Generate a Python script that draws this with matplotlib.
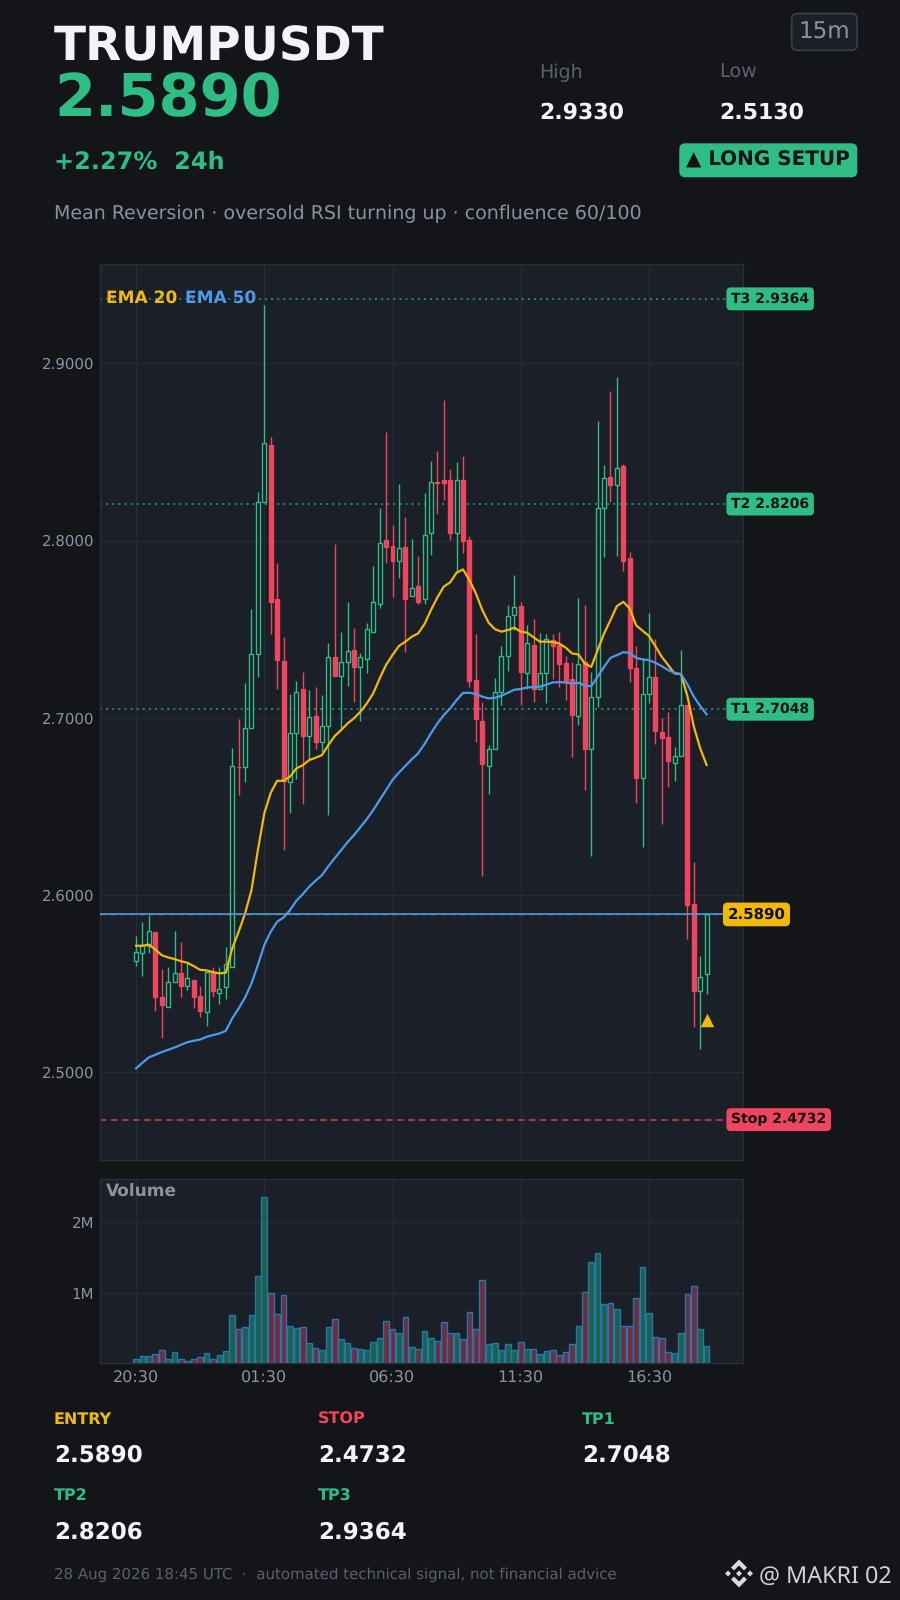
import matplotlib
matplotlib.use("Agg")
import matplotlib.pyplot as plt
from matplotlib.patches import FancyBboxPatch, Polygon

plt.rcParams["text.hinting"] = "none"
plt.rcParams["text.hinting_factor"] = 1

opens = [2.5628,2.5670,2.5711,2.5790,2.5422,2.5369,2.5510,2.5557,2.5487,2.5518,
         2.5429,2.5337,2.5563,2.5448,2.5478,2.5595,2.6723,2.6720,2.6940,2.7358,
         2.8219,2.8537,2.7668,2.7320,2.6639,2.6912,2.7160,2.6898,2.7009,2.6864,
         2.6955,2.7341,2.7237,2.7316,2.7382,2.7288,2.7329,2.7485,2.7640,2.8003,
         2.7969,2.7886,2.7963,2.7688,2.7743,2.7668,2.8040,2.8329,2.8341,2.8341,
         2.8040,2.8341,2.8003,2.7213,2.6981,2.6729,2.6821,2.7146,2.7350,2.7579,
         2.7630,2.7250,2.7408,2.7160,2.7250,2.7438,2.7410,2.7307,2.7217,2.7009,
         2.7316,2.6821,2.7118,2.8181,2.8356,2.8315,2.8420,2.7899,2.7279,2.6658,
         2.7132,2.7228,2.6917,2.6889,2.6746,2.6785,2.7070,2.5948,2.5459,2.5552]
highs = [2.5770,2.5849,2.5886,2.5790,2.5580,2.5591,2.5798,2.5736,2.5614,2.5518,
         2.5487,2.5566,2.5595,2.5595,2.5708,2.6827,2.6991,2.7197,2.7615,2.8275,
         2.9330,2.8586,2.7875,2.7457,2.7132,2.7209,2.7259,2.7156,2.7175,2.7128,
         2.7420,2.7978,2.7485,2.7654,2.7508,2.7367,2.7536,2.7858,2.8181,2.8610,
         2.8087,2.8317,2.8134,2.8007,2.7914,2.8266,2.8448,2.8507,2.8793,2.8402,
         2.8441,2.8478,2.8027,2.7470,2.7087,2.6846,2.7226,2.7404,2.7636,2.7805,
         2.7654,2.7523,2.7559,2.7480,2.7470,2.7470,2.7485,2.7350,2.7316,2.7677,
         2.7636,2.7259,2.8676,2.8426,2.8845,2.8921,2.8432,2.7937,2.7406,2.7335,
         2.7589,2.7444,2.7000,2.7030,2.6836,2.7382,2.7070,2.6187,2.5657,2.5890]
lows = [2.5599,2.5542,2.5670,2.5346,2.5191,2.5369,2.5510,2.5422,2.5463,2.5360,
        2.5309,2.5260,2.5422,2.5384,2.5411,2.5595,2.6564,2.6639,2.6940,2.7231,
        2.8219,2.7470,2.7160,2.6253,2.6460,2.6652,2.6513,2.6761,2.6821,2.6808,
        2.6451,2.7237,2.6940,2.7179,2.7087,2.6981,2.7250,2.7485,2.7617,2.7871,
        2.7679,2.7786,2.7369,2.7688,2.7640,2.7640,2.7918,2.8148,2.8228,2.8003,
        2.7815,2.7928,2.7171,2.6861,2.6109,2.6568,2.6821,2.7071,2.7263,2.7495,
        2.7071,2.7160,2.7087,2.7160,2.7081,2.7217,2.7171,2.7100,2.6780,2.6959,
        2.6592,2.6219,2.7062,2.7908,2.8219,2.7914,2.7829,2.7200,2.6517,2.6272,
        2.7081,2.6851,2.6400,2.6607,2.6643,2.6785,2.5749,2.5256,2.5130,2.5441]
closes = [2.5679,2.5717,2.5798,2.5425,2.5380,2.5510,2.5557,2.5487,2.5529,2.5425,
          2.5346,2.5566,2.5459,2.5467,2.5608,2.6729,2.6720,2.6940,2.7358,2.8219,
          2.8548,2.7654,2.7325,2.6644,2.6912,2.7146,2.6898,2.7006,2.6864,2.6955,
          2.7341,2.7237,2.7316,2.7378,2.7288,2.7341,2.7499,2.7651,2.7987,2.7965,
          2.7886,2.7959,2.7668,2.7730,2.7654,2.8031,2.8328,2.8325,2.8326,2.8040,
          2.8340,2.7999,2.7209,2.6991,2.6737,2.6821,2.7146,2.7350,2.7575,2.7626,
          2.7259,2.7420,2.7160,2.7250,2.7447,2.7406,2.7301,2.7207,2.7015,2.7301,
          2.6821,2.7118,2.8181,2.8351,2.8315,2.8407,2.7886,2.7279,2.6658,2.7132,
          2.7228,2.6926,2.6887,2.6757,2.6785,2.7070,2.5943,2.5459,2.5538,2.5890]
volumes = [0.070,0.122,0.122,0.150,0.207,0.080,0.178,0.080,0.042,0.080,
           0.108,0.155,0.080,0.127,0.183,0.690,0.502,0.521,0.690,1.239,
           2.362,1.000,0.704,0.972,0.535,0.507,0.521,0.296,0.225,0.197,
           0.521,0.634,0.352,0.296,0.225,0.211,0.197,0.310,0.366,0.606,
           0.493,0.437,0.662,0.239,0.211,0.465,0.366,0.324,0.592,0.437,
           0.437,0.352,0.732,0.493,1.183,0.282,0.296,0.197,0.282,0.197,
           0.310,0.211,0.211,0.141,0.183,0.197,0.127,0.169,0.282,0.535,
           1.014,1.437,1.563,0.845,0.859,0.775,0.535,0.535,0.930,1.366,
           0.718,0.380,0.366,0.169,0.155,0.437,0.986,1.099,0.493,0.254]
ema20 = [2.5713,2.5713,2.5720,2.5692,2.5660,2.5647,2.5638,2.5626,2.5617,2.5598,
         2.5577,2.5574,2.5564,2.5557,2.5561,2.5698,2.5792,2.5895,2.6027,2.6253,
         2.6460,2.6576,2.6644,2.6644,2.6667,2.6714,2.6732,2.6761,2.6774,2.6789,
         2.6846,2.6897,2.6931,2.6968,2.6997,2.7034,2.7081,2.7138,2.7222,2.7298,
         2.7354,2.7405,2.7429,2.7457,2.7476,2.7529,2.7608,2.7679,2.7740,2.7764,
         2.7819,2.7837,2.7777,2.7702,2.7608,2.7536,2.7499,2.7486,2.7495,2.7508,
         2.7486,2.7480,2.7454,2.7429,2.7429,2.7428,2.7419,2.7396,2.7363,2.7357,
         2.7306,2.7287,2.7381,2.7475,2.7551,2.7630,2.7654,2.7617,2.7522,2.7491,
         2.7462,2.7404,2.7344,2.7297,2.7250,2.7246,2.7123,2.6950,2.6827,2.6733]
ema50 = [2.5021,2.5053,2.5083,2.5098,2.5113,2.5126,2.5139,2.5154,2.5169,2.5177,
         2.5184,2.5199,2.5209,2.5218,2.5233,2.5303,2.5359,2.5421,2.5500,2.5604,
         2.5717,2.5792,2.5848,2.5873,2.5914,2.5967,2.6004,2.6046,2.6080,2.6112,
         2.6162,2.6208,2.6253,2.6298,2.6338,2.6383,2.6428,2.6479,2.6536,2.6592,
         2.6649,2.6690,2.6728,2.6765,2.6799,2.6852,2.6912,2.6968,2.7015,2.7053,
         2.7100,2.7140,2.7141,2.7134,2.7119,2.7109,2.7113,2.7124,2.7141,2.7158,
         2.7162,2.7171,2.7173,2.7175,2.7187,2.7199,2.7201,2.7199,2.7193,2.7197,
         2.7182,2.7178,2.7231,2.7287,2.7338,2.7353,2.7370,2.7366,2.7338,2.7329,
         2.7325,2.7310,2.7291,2.7269,2.7254,2.7246,2.7189,2.7119,2.7066,2.7019]
time_labels = ["20:30", "01:30", "06:30", "11:30", "16:30"]
time_ticks = [0, 20, 40, 60, 80]
price_ticks = [2.5, 2.6, 2.7, 2.8, 2.9]
volume_ticks = [1.0, 2.0]
volume_labels = ["1M", "2M"]
targets = {"T1": 2.7048, "T2": 2.8206, "T3": 2.9364}
stop_price = 2.4732
last_price = 2.5890
signal_price = 2.5295
signal_index = 89

BG = "#131519"
PANEL = "#1B1F27"
GRID = "#272B34"
SPINE = "#2A2E37"
GREEN = "#2DBD85"
RED = "#F0445F"
YELLOW = "#F0B90B"
BLUE = "#4A9BEC"
WHITE = "#F1F3F6"
GREY = "#8A92A0"
DIM = "#5A606C"

W, H = 900, 1600
fig = plt.figure(figsize=(9, 16), dpi=100, facecolor=BG)
plt.rcParams["font.family"] = "DejaVu Sans"

def axes_px(x0, y0, x1, y1):
    return fig.add_axes([x0 / W, 1 - y1 / H, (x1 - x0) / W, (y1 - y0) / H], facecolor=PANEL)

ax = axes_px(100.3, 264.3, 743.3, 1160)
vax = axes_px(100.3, 1179.3, 743.3, 1363.3)
XLIM = (-5.58, 94.72)

for a in (ax, vax):
    a.set_xlim(*XLIM)
    a.set_axisbelow(True)
    a.grid(True, color=GRID, lw=1)
    for s in a.spines.values():
        s.set_color(SPINE)
        s.set_linewidth(1)
    a.set_xticks(time_ticks)

ax.set_ylim(2.4504, 2.9559)
ax.set_yticks(price_ticks)
ax.set_yticklabels([f"{p:.4f}" for p in price_ticks], color=GREY, fontsize=11)
ax.tick_params(axis="x", length=0, labelbottom=False)
ax.tick_params(axis="y", length=0, pad=4.5)

LABEL_X = 0.981
def level_label(x, val, text, fc, size, pad):
    ax.text(x, val, text, transform=ax.get_yaxis_transform(), ha="left", va="center",
            color="#0E1114", fontsize=size, fontweight="bold", family="DejaVu Sans",
            clip_on=False, zorder=8,
            bbox=dict(boxstyle=f"round,pad={pad},rounding_size=0.3", fc=fc, ec="none"))

# reference levels
for name, val in targets.items():
    ax.axhline(val, color=GREEN, lw=1.1, ls=(0, (1.3, 2.7)), alpha=0.85, zorder=1.5)
    level_label(LABEL_X, val, f"{name} {val:.4f}", GREEN, 10.2, 0.33)
ax.axhline(stop_price, color=RED, lw=1.2, ls=(0, (4, 2.6)), alpha=0.8, zorder=1.5)
level_label(LABEL_X, stop_price, f"Stop {stop_price:.4f}", RED, 10.2, 0.33)

# candles
xs = list(range(len(closes)))
for i in xs:
    up = closes[i] >= opens[i]
    col = GREEN if up else RED
    ax.vlines(i, lows[i], highs[i], color=col, lw=1.0, zorder=3)
    ax.bar(i, abs(closes[i] - opens[i]), bottom=min(opens[i], closes[i]), width=0.62,
           facecolor=PANEL if up else col, edgecolor=col, lw=1.0, zorder=4)

ax.plot(xs, ema20, color=YELLOW, lw=1.6, zorder=5)
ax.plot(xs, ema50, color=BLUE, lw=1.6, zorder=5)
ax.axhline(last_price, color=YELLOW, lw=1.0, ls=(0, (4, 3)), alpha=0.5, zorder=5)
ax.axhline(last_price, color=BLUE, lw=1.3, alpha=0.9, zorder=5.5)
level_label(0.9755, last_price, f"{last_price:.4f}", YELLOW, 11.0, 0.3)
ax.scatter([signal_index], [signal_price], marker="^", s=95, color=YELLOW, zorder=7, linewidths=0)

ax.text(0.0085, 0.9625, "EMA 20", transform=ax.transAxes, color=YELLOW, fontsize=12.2,
        fontweight="bold", ha="left", va="center", zorder=9)
ax.text(0.1313, 0.9625, "EMA 50", transform=ax.transAxes, color=BLUE, fontsize=12.2,
        fontweight="bold", ha="left", va="center", zorder=9)

# volume
vcols = ["#1F6048" if c >= o else "#762B3A" for o, c in zip(opens, closes)]
vax.bar(xs, volumes, width=0.88, color=vcols, edgecolor="#1F77B4", lw=1.0, zorder=3)
vax.set_ylim(0.015, 2.606)
vax.set_yticks(volume_ticks)
vax.set_yticklabels(volume_labels, color=GREY, fontsize=11)
vax.set_xticklabels(time_labels, color=GREY, fontsize=11.2)
vax.tick_params(axis="both", length=0)
vax.tick_params(axis="x", pad=5)
vax.tick_params(axis="y", pad=4.5)
vax.text(0.0085, 0.928, "Volume", transform=vax.transAxes, color=GREY, fontsize=12.2,
         fontweight="bold", ha="left", va="center", zorder=9)

# page chrome drawn on a pixel overlay
ov = fig.add_axes([0, 0, 1, 1], facecolor="none")
ov.set_xlim(0, W)
ov.set_ylim(H, 0)
ov.axis("off")
ov.set_zorder(10)

def t(x, y, s, color, size, weight="normal", ha="left", family="DejaVu Sans"):
    return ov.text(x, y, s, color=color, fontsize=size, fontweight=weight, ha=ha, va="baseline", family=family)

t(54, 60, "TRUMPUSDT", WHITE, 33.8, "bold")
t(54, 116, "2.5890", GREEN, 42.5, "bold")
t(54, 169, "+2.27%  24h", GREEN, 17.3, "bold")
t(54, 219, "Mean Reversion · oversold RSI turning up · confluence 60/100", GREY, 13.6)
t(539.5, 78, "High", DIM, 13.5)
t(719.5, 78, "Low", DIM, 13.5)
t(539.5, 119, "2.9330", WHITE, 15.5, "bold")
t(719.5, 119, "2.5130", WHITE, 15.5, "bold")

ov.add_patch(FancyBboxPatch((791.7, 13.5), 65.5, 36.8, boxstyle="round,pad=0,rounding_size=6",
                            fc=PANEL, ec="#3A3F4A", lw=1.2))
t(824.5, 38.5, "15m", GREY, 16.5, ha="center")
ov.add_patch(FancyBboxPatch((679.3, 143.3), 178, 34, boxstyle="round,pad=0,rounding_size=6",
                            fc=GREEN, ec="none"))
t(686, 165.7, "▲ LONG SETUP", "#101317", 14.5, "bold")

cols = [54, 318, 582]
stats = [("ENTRY", "2.5890", YELLOW, 0), ("STOP", "2.4732", RED, 1), ("TP1", "2.7048", GREEN, 2),
         ("TP2", "2.8206", GREEN, 0), ("TP3", "2.9364", GREEN, 1)]
for k, (lab, val, c, col) in enumerate(stats):
    row = 0 if k < 3 else 1
    t(cols[col], 1424 + row * 76.5, lab, c, 11.5, "bold")
    t(cols[col], 1462 + row * 76.5, val, WHITE, 16.5, "bold")

t(54, 1579, "28 Aug 2026 18:45 UTC  ·  automated technical signal, not financial advice", DIM, 11.0)
t(259, 1579, "", DIM, 11.0)
t(759, 1582.7, "@ MAKRI 02", "#CFD2D6", 16.8, family="Noto Sans")

# logo
LOGO = "#D8DADD"
cx, cy = 739, 1573.5
def diamond(dx, dy, r):
    ov.add_patch(Polygon([(cx + dx, cy + dy - r), (cx + dx + r, cy + dy), (cx + dx, cy + dy + r), (cx + dx - r, cy + dy)],
                         closed=True, fc=LOGO, ec="none"))
diamond(0, 0, 3)
diamond(-11, 0, 3)
diamond(11, 0, 3)
ov.add_patch(Polygon([(cx, cy - 14), (cx + 8, cy - 6), (cx + 5, cy - 3), (cx, cy - 8), (cx - 5, cy - 3), (cx - 8, cy - 6)], closed=True, fc=LOGO, ec="none"))
ov.add_patch(Polygon([(cx, cy + 14), (cx + 8, cy + 6), (cx + 5, cy + 3), (cx, cy + 8), (cx - 5, cy + 3), (cx - 8, cy + 6)], closed=True, fc=LOGO, ec="none"))

fig.savefig("out.png", dpi=100, facecolor=BG)
